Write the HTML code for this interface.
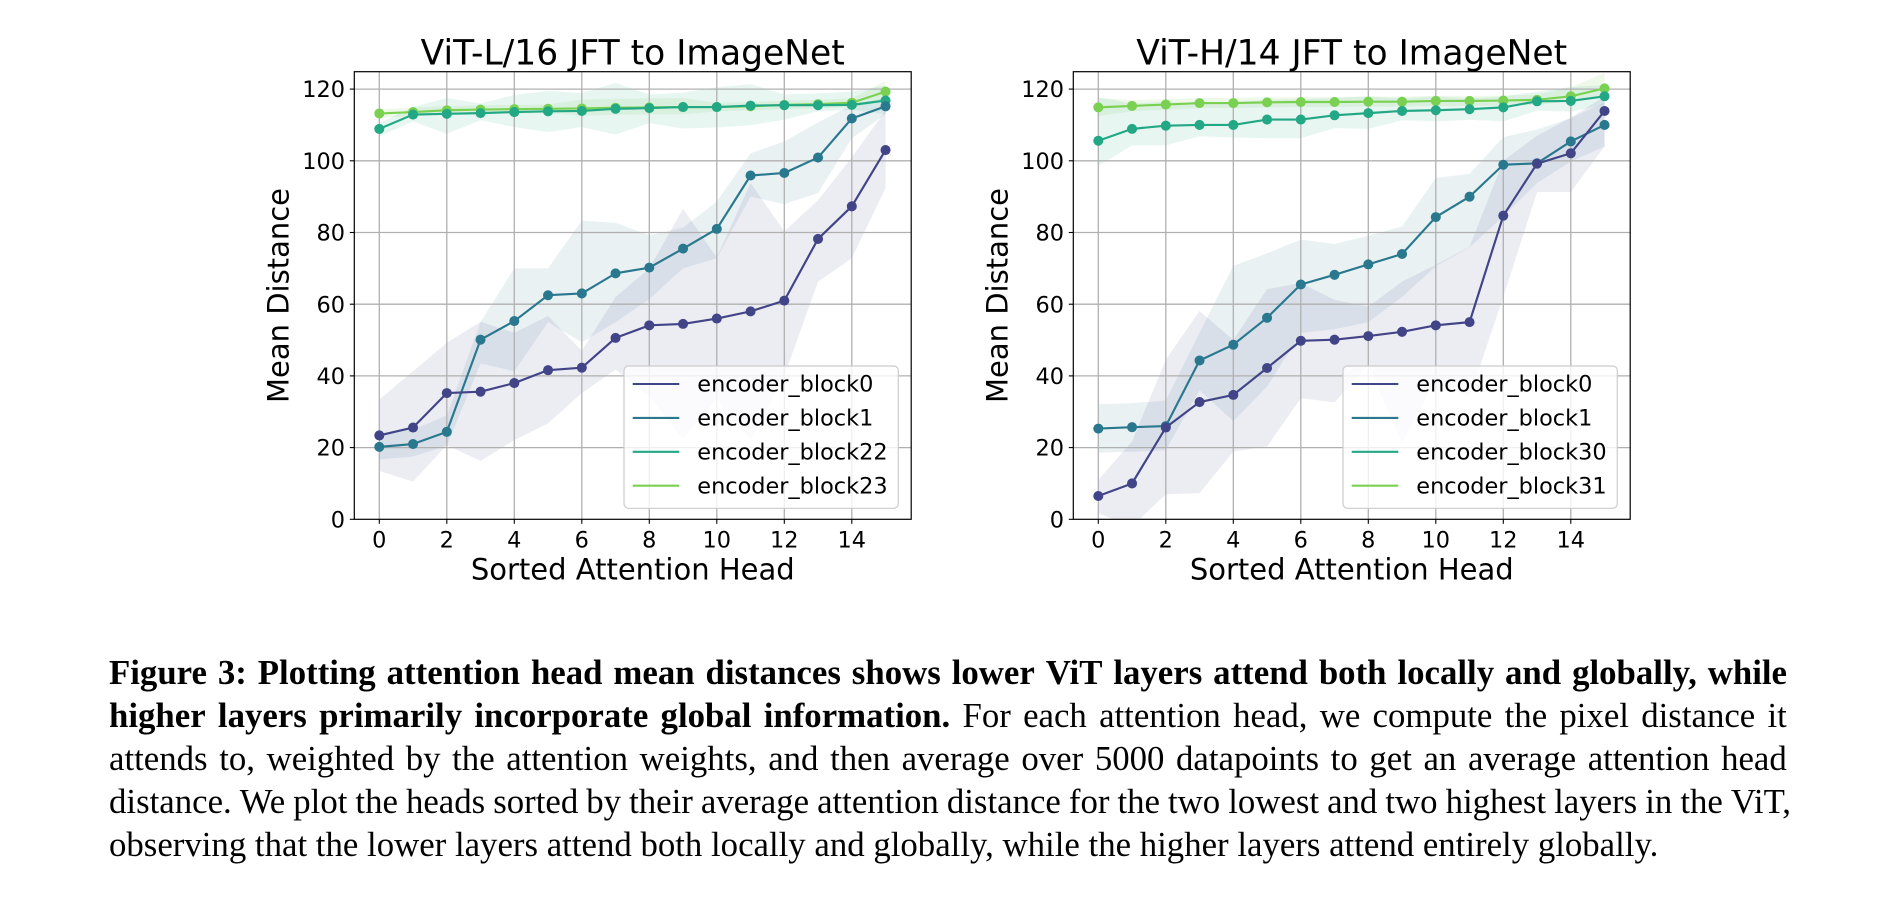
<!DOCTYPE html>
<html>
<head>
<meta charset="utf-8">
<style>
html,body{margin:0;padding:0;background:#fff;}
body{width:1879px;height:910px;overflow:hidden;position:relative;}
svg{position:absolute;left:0;top:0;}
.cap{position:absolute;left:109px;font-family:"Liberation Serif","Times New Roman",serif;font-size:34.8px;line-height:43.2px;color:#000;white-space:nowrap;}
.j{display:flex;justify-content:space-between;width:1678px;}
.b{font-weight:bold;}
</style>
</head>
<body>
<svg width="1879" height="910" viewBox="0 0 1879 910" xmlns="http://www.w3.org/2000/svg" font-family="'DejaVu Sans','Liberation Sans',sans-serif">
<defs>
<clipPath id="cl" clipPathUnits="userSpaceOnUse"><rect x="354.3" y="71.7" width="556.9" height="447.6"/></clipPath>
<marker id="k0" markerUnits="userSpaceOnUse" viewBox="-2 -2 4 4" markerWidth="4" markerHeight="4" refX="0" refY="0" overflow="visible"><circle r="1.4" fill="#414487"/></marker>
<marker id="k1" markerUnits="userSpaceOnUse" viewBox="-2 -2 4 4" markerWidth="4" markerHeight="4" refX="0" refY="0" overflow="visible"><circle r="1.4" fill="#2a788e"/></marker>
<marker id="k2" markerUnits="userSpaceOnUse" viewBox="-2 -2 4 4" markerWidth="4" markerHeight="4" refX="0" refY="0" overflow="visible"><circle r="1.4" fill="#22a884"/></marker>
<marker id="k3" markerUnits="userSpaceOnUse" viewBox="-2 -2 4 4" markerWidth="4" markerHeight="4" refX="0" refY="0" overflow="visible"><circle r="1.4" fill="#7ad151"/></marker>
</defs>

<!-- ================= LEFT CHART ================= -->
<g>
 <g clip-path="url(#cl)">
  <g transform="translate(379.3,519.3) scale(3.585)">
   <polygon fill="#7ad151" fill-opacity="0.12" points="0,-114.4 9.41,-114.8 18.83,-115.3 28.24,-115.5 37.66,-115.6 47.07,-115.7 56.49,-117.1 65.9,-117.3 75.31,-117.4 84.73,-117.5 94.14,-116.2 103.56,-116.4 112.97,-116.8 122.38,-117 131.8,-117.4 141.21,-122.3 141.21,-116.5 131.8,-115 122.38,-114.6 112.97,-114.4 103.56,-114 94.14,-113.8 84.73,-113 75.31,-112.9 65.9,-112.8 56.49,-112.6 47.07,-113.3 37.66,-113.2 28.24,-113.1 18.83,-112.9 9.41,-112.4 0,-112"/>
   <polygon fill="#22a884" fill-opacity="0.1" points="0,-110.5 9.41,-115 18.83,-117.5 28.24,-116 37.66,-118.4 47.07,-119.5 56.49,-118.9 65.9,-121.7 75.31,-118.5 84.73,-119 94.14,-120.5 103.56,-121.4 112.97,-118.5 122.38,-118.8 131.8,-119.3 141.21,-121 141.21,-113 131.8,-114.2 122.38,-113.8 112.97,-111.5 103.56,-109.9 94.14,-109.3 84.73,-109 75.31,-110.5 65.9,-107.3 56.49,-109.4 47.07,-108 37.66,-109.4 28.24,-111.3 18.83,-107.5 9.41,-111 0,-106.8"/>
   <polygon fill="#2a788e" fill-opacity="0.1" points="0,-24 9.41,-25 18.83,-29 28.24,-55 37.66,-70 47.07,-70 56.49,-83.3 65.9,-82.7 75.31,-79.2 84.73,-81.4 94.14,-88.6 103.56,-102.1 112.97,-105.4 122.38,-110.7 131.8,-115.6 141.21,-117.5 141.21,-113 131.8,-106.3 122.38,-91 112.97,-87.9 103.56,-90 94.14,-72.8 84.73,-70 75.31,-61.4 65.9,-55 56.49,-49.4 47.07,-55 37.66,-41.3 28.24,-43.5 18.83,-20.5 9.41,-17.5 0,-16.7"/>
   <polygon fill="#414487" fill-opacity="0.1" points="0,-33.4 9.41,-41.3 18.83,-49.2 28.24,-55.1 37.66,-52 47.07,-56.7 56.49,-47 65.9,-62 75.31,-70 84.73,-86.6 94.14,-73 103.56,-93.8 112.97,-80.3 122.38,-89 131.8,-101 141.21,-114 141.21,-92.4 131.8,-72.8 122.38,-66.3 112.97,-40 103.56,-22.2 94.14,-33.4 84.73,-22.4 75.31,-34.3 65.9,-41.8 56.49,-35.2 47.07,-26.8 37.66,-22.1 28.24,-16.3 18.83,-20.7 9.41,-10.5 0,-13.5"/>
  </g>
 </g>
 <!-- grid -->
 <g stroke="#b0b0b0" stroke-width="1.3">
  <line x1="379.3" y1="71.7" x2="379.3" y2="519.3"/><line x1="446.8" y1="71.7" x2="446.8" y2="519.3"/>
  <line x1="514.3" y1="71.7" x2="514.3" y2="519.3"/><line x1="581.8" y1="71.7" x2="581.8" y2="519.3"/>
  <line x1="649.3" y1="71.7" x2="649.3" y2="519.3"/><line x1="716.8" y1="71.7" x2="716.8" y2="519.3"/>
  <line x1="784.3" y1="71.7" x2="784.3" y2="519.3"/><line x1="851.8" y1="71.7" x2="851.8" y2="519.3"/>
  <line x1="354.3" y1="447.6" x2="911.2" y2="447.6"/><line x1="354.3" y1="375.9" x2="911.2" y2="375.9"/>
  <line x1="354.3" y1="304.2" x2="911.2" y2="304.2"/><line x1="354.3" y1="232.5" x2="911.2" y2="232.5"/>
  <line x1="354.3" y1="160.8" x2="911.2" y2="160.8"/><line x1="354.3" y1="89.1" x2="911.2" y2="89.1"/>
 </g>
 <!-- series -->
 <g transform="translate(379.3,519.3) scale(3.585)" fill="none" stroke-width="0.6" stroke-linejoin="round">
  <polyline stroke="#7ad151" marker-start="url(#k3)" marker-mid="url(#k3)" marker-end="url(#k3)" points="0,-113.2 9.41,-113.6 18.83,-114.1 28.24,-114.3 37.66,-114.4 47.07,-114.5 56.49,-114.6 65.9,-114.8 75.31,-114.9 84.73,-115 94.14,-115 103.56,-115.2 112.97,-115.6 122.38,-115.8 131.8,-116.2 141.21,-119.3"/>
  <polyline stroke="#22a884" marker-start="url(#k2)" marker-mid="url(#k2)" marker-end="url(#k2)" points="0,-108.9 9.41,-112.9 18.83,-113.1 28.24,-113.3 37.66,-113.6 47.07,-113.8 56.49,-113.9 65.9,-114.5 75.31,-114.7 84.73,-115 94.14,-115 103.56,-115.4 112.97,-115.5 122.38,-115.5 131.8,-115.6 141.21,-116.8"/>
  <polyline stroke="#2a788e" marker-start="url(#k1)" marker-mid="url(#k1)" marker-end="url(#k1)" points="0,-20.2 9.41,-21 18.83,-24.4 28.24,-50.1 37.66,-55.3 47.07,-62.5 56.49,-63 65.9,-68.6 75.31,-70.2 84.73,-75.5 94.14,-81 103.56,-95.9 112.97,-96.6 122.38,-100.9 131.8,-111.8 141.21,-115.2"/>
  <polyline stroke="#414487" marker-start="url(#k0)" marker-mid="url(#k0)" marker-end="url(#k0)" points="0,-23.4 9.41,-25.6 18.83,-35.2 28.24,-35.6 37.66,-38 47.07,-41.6 56.49,-42.3 65.9,-50.6 75.31,-54.1 84.73,-54.5 94.14,-56 103.56,-58 112.97,-61 122.38,-78.2 131.8,-87.3 141.21,-103"/>
 </g>
 <!-- spines & ticks -->
 <rect x="354.3" y="71.7" width="556.9" height="447.6" fill="none" stroke="#000" stroke-width="1.2"/>
 <g stroke="#000" stroke-width="1.1">
  <line x1="379.3" y1="519.3" x2="379.3" y2="523.8"/><line x1="446.8" y1="519.3" x2="446.8" y2="523.8"/>
  <line x1="514.3" y1="519.3" x2="514.3" y2="523.8"/><line x1="581.8" y1="519.3" x2="581.8" y2="523.8"/>
  <line x1="649.3" y1="519.3" x2="649.3" y2="523.8"/><line x1="716.8" y1="519.3" x2="716.8" y2="523.8"/>
  <line x1="784.3" y1="519.3" x2="784.3" y2="523.8"/><line x1="851.8" y1="519.3" x2="851.8" y2="523.8"/>
  <line x1="349.8" y1="519.3" x2="354.3" y2="519.3"/><line x1="349.8" y1="447.6" x2="354.3" y2="447.6"/>
  <line x1="349.8" y1="375.9" x2="354.3" y2="375.9"/><line x1="349.8" y1="304.2" x2="354.3" y2="304.2"/>
  <line x1="349.8" y1="232.5" x2="354.3" y2="232.5"/><line x1="349.8" y1="160.8" x2="354.3" y2="160.8"/>
  <line x1="349.8" y1="89.1" x2="354.3" y2="89.1"/>
 </g>
 <g font-size="22.4" fill="#000" text-anchor="middle">
  <text x="379.3" y="547.7">0</text><text x="446.8" y="547.7">2</text><text x="514.3" y="547.7">4</text>
  <text x="581.8" y="547.7">6</text><text x="649.3" y="547.7">8</text><text x="716.8" y="547.7">10</text>
  <text x="784.3" y="547.7">12</text><text x="851.8" y="547.7">14</text>
 </g>
 <g font-size="22.4" fill="#000" text-anchor="end">
  <text x="345" y="527.4">0</text><text x="345" y="455.7">20</text><text x="345" y="384">40</text>
  <text x="345" y="312.3">60</text><text x="345" y="240.6">80</text><text x="345" y="168.9">100</text>
  <text x="345" y="97.2">120</text>
 </g>
 <text x="632.75" y="64.3" font-size="34.5" text-anchor="middle" fill="#000">ViT-L/16 JFT to ImageNet</text>
 <text x="632.75" y="579.3" font-size="29" text-anchor="middle" fill="#000">Sorted Attention Head</text>
 <text transform="translate(288.5,295.5) rotate(-90)" font-size="29" text-anchor="middle" fill="#000">Mean Distance</text>
 <!-- legend -->
 <rect x="624" y="366" width="274.3" height="142.3" rx="4.5" fill="#fff" fill-opacity="0.8" stroke="#cccccc" stroke-width="1.2"/>
 <g stroke-width="2.1">
  <line x1="632.7" y1="384" x2="679.3" y2="384" stroke="#414487"/>
  <line x1="632.7" y1="417.9" x2="679.3" y2="417.9" stroke="#2a788e"/>
  <line x1="632.7" y1="451.8" x2="679.3" y2="451.8" stroke="#22a884"/>
  <line x1="632.7" y1="485.7" x2="679.3" y2="485.7" stroke="#7ad151"/>
 </g>
 <g font-size="22.4" fill="#000">
  <text x="697.3" y="391.7">encoder_block0</text>
  <text x="697.3" y="425.6">encoder_block1</text>
  <text x="697.3" y="459.5">encoder_block22</text>
  <text x="697.3" y="493.4">encoder_block23</text>
 </g>
</g>

<!-- ================= RIGHT CHART ================= -->
<g transform="translate(719,0)">
 <g clip-path="url(#cl)">
  <g transform="translate(379.3,519.3) scale(3.585)">
   <polygon fill="#7ad151" fill-opacity="0.12" points="0,-117.5 9.41,-117 18.83,-117.2 28.24,-117.5 37.66,-117.6 47.07,-117.7 56.49,-117.8 65.9,-117.8 75.31,-117.9 84.73,-117.9 94.14,-118.1 103.56,-118.1 112.97,-118.2 122.38,-118.5 131.8,-120.5 141.21,-124.5 141.21,-117.5 131.8,-116.5 122.38,-115.6 112.97,-115.4 103.56,-115.3 94.14,-115.3 84.73,-115.1 75.31,-115.1 65.9,-115 56.49,-115 47.07,-114.9 37.66,-114.7 28.24,-114.7 18.83,-114.2 9.41,-113.8 0,-112.5"/>
   <polygon fill="#22a884" fill-opacity="0.1" points="0,-117.7 9.41,-116 18.83,-116.5 28.24,-115.9 37.66,-116.4 47.07,-117 56.49,-117.2 65.9,-117.5 75.31,-118 84.73,-117.4 94.14,-118 103.56,-117.4 112.97,-118 122.38,-119.3 131.8,-120.6 141.21,-121.1 141.21,-115.6 131.8,-113.7 122.38,-114 112.97,-111 103.56,-111.4 94.14,-111 84.73,-111.3 75.31,-108.9 65.9,-109.1 56.49,-106.3 47.07,-106.3 37.66,-106.5 28.24,-106.8 18.83,-104.3 9.41,-104.3 0,-98.6"/>
   <polygon fill="#2a788e" fill-opacity="0.1" points="0,-32.1 9.41,-32.4 18.83,-33.1 28.24,-52 37.66,-70.7 47.07,-74.2 56.49,-78 65.9,-76.8 75.31,-79.1 84.73,-81.7 94.14,-95.2 103.56,-96.4 112.97,-106.6 122.38,-108.7 131.8,-111.9 141.21,-116.3 141.21,-104 131.8,-99.8 122.38,-93.8 112.97,-84.5 103.56,-75.9 94.14,-70.6 84.73,-62 75.31,-55 65.9,-53 56.49,-52 47.07,-37 37.66,-27.4 28.24,-36 18.83,-19.3 9.41,-18.8 0,-18.6"/>
   <polygon fill="#414487" fill-opacity="0.1" points="0,-11 9.41,-21.7 18.83,-44.5 28.24,-58.1 37.66,-50 47.07,-64.2 56.49,-65.9 65.9,-61.2 75.31,-59.3 84.73,-66.3 94.14,-71 103.56,-76 112.97,-100 122.38,-107 131.8,-112 141.21,-118 141.21,-104 131.8,-91.3 122.38,-91.3 112.97,-62 103.56,-34.2 94.14,-38.9 84.73,-21.2 75.31,-43.1 65.9,-32.6 56.49,-33.8 47.07,-20.3 37.66,-18.9 28.24,-7.3 18.83,-7 9.41,2 0,-1.7"/>
  </g>
 </g>
 <g stroke="#b0b0b0" stroke-width="1.3">
  <line x1="379.3" y1="71.7" x2="379.3" y2="519.3"/><line x1="446.8" y1="71.7" x2="446.8" y2="519.3"/>
  <line x1="514.3" y1="71.7" x2="514.3" y2="519.3"/><line x1="581.8" y1="71.7" x2="581.8" y2="519.3"/>
  <line x1="649.3" y1="71.7" x2="649.3" y2="519.3"/><line x1="716.8" y1="71.7" x2="716.8" y2="519.3"/>
  <line x1="784.3" y1="71.7" x2="784.3" y2="519.3"/><line x1="851.8" y1="71.7" x2="851.8" y2="519.3"/>
  <line x1="354.3" y1="447.6" x2="911.2" y2="447.6"/><line x1="354.3" y1="375.9" x2="911.2" y2="375.9"/>
  <line x1="354.3" y1="304.2" x2="911.2" y2="304.2"/><line x1="354.3" y1="232.5" x2="911.2" y2="232.5"/>
  <line x1="354.3" y1="160.8" x2="911.2" y2="160.8"/><line x1="354.3" y1="89.1" x2="911.2" y2="89.1"/>
 </g>
 <g transform="translate(379.3,519.3) scale(3.585)" fill="none" stroke-width="0.6" stroke-linejoin="round">
  <polyline stroke="#7ad151" marker-start="url(#k3)" marker-mid="url(#k3)" marker-end="url(#k3)" points="0,-114.9 9.41,-115.3 18.83,-115.7 28.24,-116.1 37.66,-116.1 47.07,-116.3 56.49,-116.4 65.9,-116.4 75.31,-116.5 84.73,-116.5 94.14,-116.7 103.56,-116.7 112.97,-116.8 122.38,-117 131.8,-118 141.21,-120.2"/>
  <polyline stroke="#22a884" marker-start="url(#k2)" marker-mid="url(#k2)" marker-end="url(#k2)" points="0,-105.6 9.41,-108.9 18.83,-109.8 28.24,-110 37.66,-110 47.07,-111.5 56.49,-111.5 65.9,-112.7 75.31,-113.3 84.73,-113.9 94.14,-114.1 103.56,-114.4 112.97,-114.9 122.38,-116.6 131.8,-116.7 141.21,-118"/>
  <polyline stroke="#2a788e" marker-start="url(#k1)" marker-mid="url(#k1)" marker-end="url(#k1)" points="0,-25.3 9.41,-25.7 18.83,-26 28.24,-44.3 37.66,-48.7 47.07,-56.2 56.49,-65.5 65.9,-68.2 75.31,-71.1 84.73,-74 94.14,-84.3 103.56,-90 112.97,-98.9 122.38,-99.3 131.8,-105.4 141.21,-110"/>
  <polyline stroke="#414487" marker-start="url(#k0)" marker-mid="url(#k0)" marker-end="url(#k0)" points="0,-6.5 9.41,-10 18.83,-25.6 28.24,-32.7 37.66,-34.7 47.07,-42.2 56.49,-49.8 65.9,-50.1 75.31,-51.1 84.73,-52.3 94.14,-54.1 103.56,-55 112.97,-84.7 122.38,-99.2 131.8,-102.1 141.21,-113.9"/>
 </g>
 <rect x="354.3" y="71.7" width="556.9" height="447.6" fill="none" stroke="#000" stroke-width="1.2"/>
 <g stroke="#000" stroke-width="1.1">
  <line x1="379.3" y1="519.3" x2="379.3" y2="523.8"/><line x1="446.8" y1="519.3" x2="446.8" y2="523.8"/>
  <line x1="514.3" y1="519.3" x2="514.3" y2="523.8"/><line x1="581.8" y1="519.3" x2="581.8" y2="523.8"/>
  <line x1="649.3" y1="519.3" x2="649.3" y2="523.8"/><line x1="716.8" y1="519.3" x2="716.8" y2="523.8"/>
  <line x1="784.3" y1="519.3" x2="784.3" y2="523.8"/><line x1="851.8" y1="519.3" x2="851.8" y2="523.8"/>
  <line x1="349.8" y1="519.3" x2="354.3" y2="519.3"/><line x1="349.8" y1="447.6" x2="354.3" y2="447.6"/>
  <line x1="349.8" y1="375.9" x2="354.3" y2="375.9"/><line x1="349.8" y1="304.2" x2="354.3" y2="304.2"/>
  <line x1="349.8" y1="232.5" x2="354.3" y2="232.5"/><line x1="349.8" y1="160.8" x2="354.3" y2="160.8"/>
  <line x1="349.8" y1="89.1" x2="354.3" y2="89.1"/>
 </g>
 <g font-size="22.4" fill="#000" text-anchor="middle">
  <text x="379.3" y="547.7">0</text><text x="446.8" y="547.7">2</text><text x="514.3" y="547.7">4</text>
  <text x="581.8" y="547.7">6</text><text x="649.3" y="547.7">8</text><text x="716.8" y="547.7">10</text>
  <text x="784.3" y="547.7">12</text><text x="851.8" y="547.7">14</text>
 </g>
 <g font-size="22.4" fill="#000" text-anchor="end">
  <text x="345" y="527.4">0</text><text x="345" y="455.7">20</text><text x="345" y="384">40</text>
  <text x="345" y="312.3">60</text><text x="345" y="240.6">80</text><text x="345" y="168.9">100</text>
  <text x="345" y="97.2">120</text>
 </g>
 <text x="632.75" y="64.3" font-size="34.5" text-anchor="middle" fill="#000">ViT-H/14 JFT to ImageNet</text>
 <text x="632.75" y="579.3" font-size="29" text-anchor="middle" fill="#000">Sorted Attention Head</text>
 <text transform="translate(288.5,295.5) rotate(-90)" font-size="29" text-anchor="middle" fill="#000">Mean Distance</text>
 <rect x="624" y="366" width="274.3" height="142.3" rx="4.5" fill="#fff" fill-opacity="0.8" stroke="#cccccc" stroke-width="1.2"/>
 <g stroke-width="2.1">
  <line x1="632.7" y1="384" x2="679.3" y2="384" stroke="#414487"/>
  <line x1="632.7" y1="417.9" x2="679.3" y2="417.9" stroke="#2a788e"/>
  <line x1="632.7" y1="451.8" x2="679.3" y2="451.8" stroke="#22a884"/>
  <line x1="632.7" y1="485.7" x2="679.3" y2="485.7" stroke="#7ad151"/>
 </g>
 <g font-size="22.4" fill="#000">
  <text x="697.3" y="391.7">encoder_block0</text>
  <text x="697.3" y="425.6">encoder_block1</text>
  <text x="697.3" y="459.5">encoder_block30</text>
  <text x="697.3" y="493.4">encoder_block31</text>
 </g>
</g>
</svg>

<div class="cap j b" style="top:650.6px;"><span>Figure</span><span>3:</span><span>Plotting</span><span>attention</span><span>head</span><span>mean</span><span>distances</span><span>shows</span><span>lower</span><span>ViT</span><span>layers</span><span>attend</span><span>both</span><span>locally</span><span>and</span><span>globally,</span><span>while</span></div>
<div class="cap j" style="top:693.8px;"><span class="b">higher</span><span class="b">layers</span><span class="b">primarily</span><span class="b">incorporate</span><span class="b">global</span><span class="b">information.</span><span>For</span><span>each</span><span>attention</span><span>head,</span><span>we</span><span>compute</span><span>the</span><span>pixel</span><span>distance</span><span>it</span></div>
<div class="cap j" style="top:737px;"><span>attends</span><span>to,</span><span>weighted</span><span>by</span><span>the</span><span>attention</span><span>weights,</span><span>and</span><span>then</span><span>average</span><span>over</span><span>5000</span><span>datapoints</span><span>to</span><span>get</span><span>an</span><span>average</span><span>attention</span><span>head</span></div>
<div class="cap j" style="top:780.2px;width:1682px;"><span>distance.</span><span>We</span><span>plot</span><span>the</span><span>heads</span><span>sorted</span><span>by</span><span>their</span><span>average</span><span>attention</span><span>distance</span><span>for</span><span>the</span><span>two</span><span>lowest</span><span>and</span><span>two</span><span>highest</span><span>layers</span><span>in</span><span>the</span><span>ViT,</span></div>
<div class="cap" style="top:823.4px;">observing that the lower layers attend both locally and globally, while the higher layers attend entirely globally.</div>
</body>
</html>
